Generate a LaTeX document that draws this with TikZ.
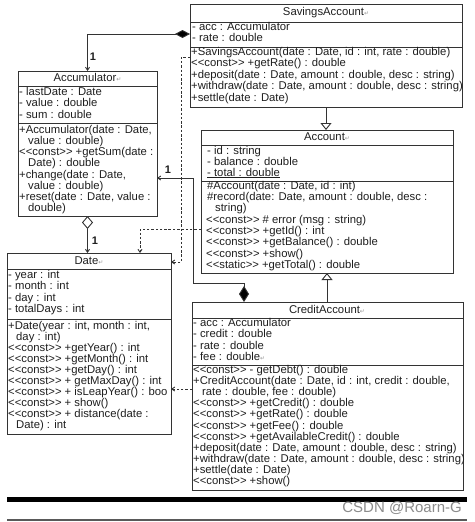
\documentclass[tikz,border=0pt]{standalone}
\usepackage{fontspec}
\newfontfamily\uml{Liberation Sans}
\newfontfamily\dejavu{DejaVu Sans}
\usetikzlibrary{arrows.meta}
\newcommand{\ret}{{\dejavu\fontsize{6}{6}\selectfont\color{black!40}↵}}
\begin{document}
\begin{tikzpicture}[x=1pt,y=-1pt,
  box/.style={draw=black!80, line width=0.9pt, inner sep=0pt, outer sep=0pt, anchor=north west, fill=white},
  txt/.style={anchor=mid west, inner sep=0pt, font=\uml\fontsize{11.3}{12}\selectfont, text=black!88},
  ttl/.style={anchor=mid, inner sep=0pt, font=\uml\fontsize{11.3}{12}\selectfont, text=black!88},
  lbl/.style={anchor=mid, inner sep=0pt, font=\uml\bfseries\fontsize{11}{12}\selectfont, text=black!88},
  divl/.style={draw=black!80, line width=0.8pt},
  link/.style={draw=black!80, line width=0.9pt},
  dep/.style={draw=black!80, line width=0.9pt, dash pattern=on 2.5pt off 1.8pt, -{Straight Barb[length=3pt,width=4pt]}},
  gen/.style={draw=black!80, line width=0.9pt, -{Triangle[open,length=7pt,width=11pt,fill=white]}},
  comp/.style={draw=black!80, line width=0.9pt},
]
\useasboundingbox (0,0) rectangle (474,522);
\fill[white] (0,0) rectangle (474,522);

% ---------------- boxes
\node[box, minimum width=272pt, minimum height=103pt] (sav) at (190,4) {};
\node[box, minimum width=139pt, minimum height=145pt] (acc) at (18,71) {};
\node[box, minimum width=252pt, minimum height=143pt] (account) at (201,130) {};
\node[box, minimum width=164pt, minimum height=181pt] (date) at (7,253) {};
\node[box, minimum width=271pt, minimum height=188pt] (credit) at (192,302) {};

\draw[divl] (sav.west |- 0,22) -- (sav.east |- 0,22);
\draw[divl] (sav.west |- 0,47) -- (sav.east |- 0,47);
\draw[divl] (acc.west |- 0,86) -- (acc.east |- 0,86);
\draw[divl] (acc.west |- 0,123) -- (acc.east |- 0,123);
\draw[divl] (account.west |- 0,145) -- (account.east |- 0,145);
\draw[divl] (account.west |- 0,181) -- (account.east |- 0,181);
\draw[divl] (date.west |- 0,269) -- (date.east |- 0,269);
\draw[divl] (date.west |- 0,319) -- (date.east |- 0,319);
\draw[divl] (credit.west |- 0,318) -- (credit.east |- 0,318);
\draw[divl] (credit.west |- 0,365) -- (credit.east |- 0,365);

% ---------------- SavingsAccount
\node[ttl] (savt) at (326,13) {SavingsAccount\ret};
\node[txt] (sa1) at (192,28) {- acc : Accumulator};
\node[txt] (sa2) at (192,39) {- rate : double};
\node[txt] (so1) at (191,53) {+SavingsAccount(date : Date, id : int, rate : double)};
\node[txt] (so2) at (191,64.5) {<<const>> +getRate() : double};
\node[txt] (so3) at (191,76) {+deposit(date : Date, amount : double, desc : string)};
\node[txt] (so4) at (191,87.5) {+withdraw(date : Date, amount : double, desc : string)};
\node[txt] (so5) at (191,99) {+settle(date : Date)};

% ---------------- Accumulator
\node[ttl] (acct) at (87.5,79) {Accumulator\ret};
\node[txt] (aa1) at (19,93) {- lastDate : Date};
\node[txt] (aa2) at (19,104) {- value : double};
\node[txt] (aa3) at (19,116) {- sum : double};
\node[txt] (ao1) at (19,131) {+Accumulator(date : Date,};
\node[txt] (ao2) at (28,142) {value : double)};
\node[txt] (ao3) at (19,153) {<<const>> +getSum(date :};
\node[txt] (ao4) at (28,164) {Date) : double};
\node[txt] (ao5) at (19,176) {+change(date : Date,};
\node[txt] (ao6) at (28,187) {value : double)};
\node[txt] (ao7) at (19,198) {+reset(date : Date, value :};
\node[txt] (ao8) at (28,209) {double)};

% ---------------- Account
\node[ttl] (accountt) at (327,138) {Account\ret};
\node[txt] (ba1) at (207,152) {- id : string};
\node[txt] (ba2) at (207,163) {- balance : double};
\node[txt] (ba3) at (207,174) {\underline{- total : double}};
\node[txt] (bo1) at (207,187) {\#Account(date : Date, id : int)};
\node[txt] (bo2) at (207,198) {\#record(date: Date, amount : double, desc :};
\node[txt] (bo3) at (215,209) {string)};
\node[txt] (bo4) at (206,221) {<<const>> \# error (msg : string)};
\node[txt] (bo5) at (206,232) {<<const>> +getId() : int};
\node[txt] (bo6) at (206,243) {<<const>> +getBalance() : double};
\node[txt] (bo7) at (206,255) {<<const>> +show()};
\node[txt] (bo8) at (206,266) {<<static>> +getTotal() : double};

% ---------------- Date
\node[ttl] (datet) at (89,262) {Date\ret};
\node[txt] (da1) at (8,276) {- year : int};
\node[txt] (da2) at (8,287) {- month : int};
\node[txt] (da3) at (8,299) {- day : int};
\node[txt] (da4) at (8,310) {- totalDays : int};
\node[txt] (do1) at (8,327) {+Date(year : int, month : int,};
\node[txt] (do2) at (16,338) {day : int)};
\node[txt] (do3) at (8,349) {<<const>> +getYear() : int};
\node[txt] (do4) at (8,360) {<<const>> +getMonth() : int};
\node[txt] (do5) at (8,371) {<<const>> +getDay() : int};
\node[txt] (do6) at (8,382) {<<const>> + getMaxDay() : int};
\node[txt] (do7) at (8,393) {<<const>> + isLeapYear() : boo};
\node[txt] (do8) at (8,404) {<<const>> + show()};
\node[txt] (do9) at (8,415) {<<const>> + distance(date :};
\node[txt] (do10) at (16,426) {Date) : int};

% ---------------- CreditAccount
\node[ttl] (creditt) at (327,311) {CreditAccount\ret};
\node[txt] (ca1) at (193,324) {- acc : Accumulator};
\node[txt] (ca2) at (193,335) {- credit : double};
\node[txt] (ca3) at (193,347) {- rate : double};
\node[txt] (ca4) at (193,358) {- fee : double\ret};
\node[txt] (co1) at (193,371) {<<const>> - getDebt() : double};
\node[txt] (co2) at (193,382) {+CreditAccount(date : Date, id : int, credit : double,};
\node[txt] (co3) at (202,393) {rate : double, fee : double)};
\node[txt] (co4) at (193,404) {<<const>> +getCredit() : double};
\node[txt] (co5) at (193,415.5) {<<const>> +getRate() : double};
\node[txt] (co6) at (193,427) {<<const>> +getFee() : double};
\node[txt] (co7) at (193,438) {<<const>> +getAvailableCredit() : double};
\node[txt] (co8) at (193,449) {+deposit(date : Date, amount : double, desc : string)};
\node[txt] (co9) at (193,460) {+withdraw(date : Date, amount : double, desc : string)};
\node[txt] (co10) at (193,471) {+settle(date : Date)};
\node[txt] (co11) at (193,482) {<<const>> +show()};

% ---------------- connectors
% composition SavingsAccount <>-- Accumulator
\draw[comp, {Straight Barb[length=3pt,width=4pt]}-{Diamond[length=15pt,width=8pt,fill=black]}]
  (acc.north) |- (sav.west |- 0,34);
\node[lbl] (l1) at (93,58) {1};
% composition CreditAccount <>-- Accumulator
\coordinate (cb1) at (193,283);
\coordinate (cb2) at (193,178);
\draw[comp, {Diamond[length=16pt,width=10pt,fill=black]}-{Straight Barb[length=3pt,width=4pt]}]
  (credit.north -| 244,0) |- (cb1) -- (cb2) -- (acc.east |- cb2);
\node[lbl] (l2) at (168,171) {1};
% aggregation Accumulator <>-- Date
\draw[comp, {Straight Barb[length=3pt,width=4pt]}-{Diamond[open,length=13pt,width=11pt,fill=white]}]
  (date.north -| acc.south) -- (acc.south);
\node[lbl] (l3) at (95,242) {1};
% generalizations
\draw[gen] (sav.south -| 326,0) -- (account.north -| 326,0);
\draw[gen] (credit.north -| 327,0) -- (account.south -| 327,0);
% dependencies
\coordinate (d1) at (140,229);
\draw[dep] (account.west |- d1) -- (d1) -- (date.north -| d1);
\coordinate (d2) at (181,57);
\coordinate (d3) at (181,262);
\draw[dep] (sav.west |- d2) -- (d2) -- (d3) -- (date.east |- d3);
\coordinate (d4) at (181,389);
\draw[dep] (credit.west |- d4) -- (date.east |- d4);

% ---------------- footer
\fill[black] (7,497) rectangle (467,502);
\node[anchor=east, inner sep=0pt, font=\uml\fontsize{15}{16}\selectfont, text=black!45] (csdn) at (462,508) {CSDN @Roarn-G};
\draw[black!65, line width=2pt] (7,519.5) -- (467,519.5);
\end{tikzpicture}
\end{document}
